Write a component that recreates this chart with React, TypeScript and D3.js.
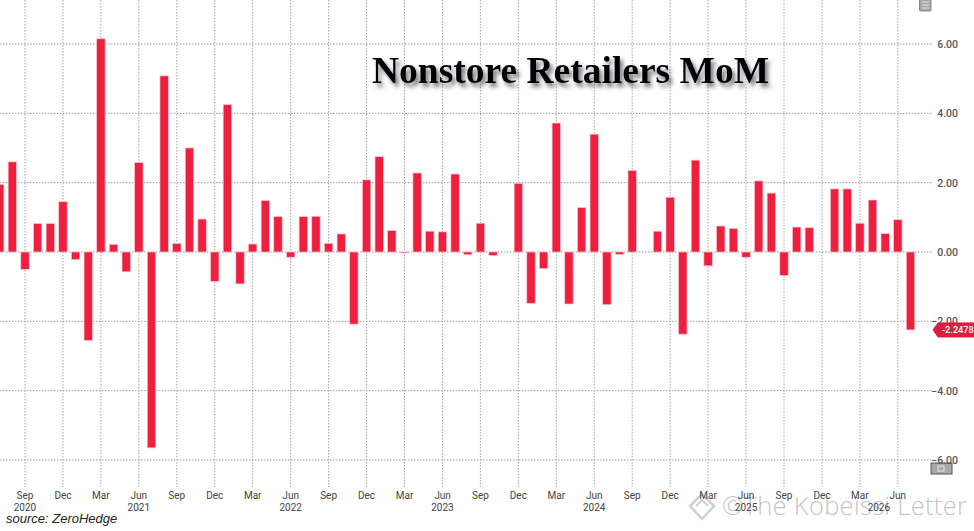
import React, { useEffect, useRef } from 'react';
import * as d3 from 'd3';

const months: string[] = [
  '2020-07','2020-08','2020-09','2020-10','2020-11','2020-12',
  '2021-01','2021-02','2021-03','2021-04','2021-05','2021-06','2021-07','2021-08','2021-09','2021-10','2021-11','2021-12',
  '2022-01','2022-02','2022-03','2022-04','2022-05','2022-06','2022-07','2022-08','2022-09','2022-10','2022-11','2022-12',
  '2023-01','2023-02','2023-03','2023-04','2023-05','2023-06','2023-07','2023-08','2023-09','2023-10','2023-11','2023-12',
  '2024-01','2024-02','2024-03','2024-04','2024-05','2024-06','2024-07','2024-08','2024-09','2024-10','2024-11','2024-12',
  '2025-01','2025-02','2025-03','2025-04','2025-05','2025-06','2025-07','2025-08','2025-09','2025-10','2025-11','2025-12',
  '2026-01','2026-02','2026-03','2026-04','2026-05','2026-06','2026-07',
];
const values: number[] = [
  1.95,2.6,-0.5,0.82,0.82,1.45,
  -0.22,-2.55,6.15,0.22,-0.57,2.58,-5.65,5.08,0.25,3.0,0.95,-0.85,
  4.25,-0.92,0.23,1.48,1.02,-0.15,1.02,1.03,0.25,0.52,-2.08,2.08,
  2.75,0.62,-0.03,2.28,0.6,0.58,2.25,-0.08,0.83,-0.1,0,1.98,
  -1.48,-0.48,3.72,-1.5,1.28,3.4,-1.52,-0.07,2.35,0,0.6,1.58,
  -2.37,2.65,-0.4,0.75,0.68,-0.15,2.05,1.7,-0.68,0.72,0.7,0,
  1.82,1.82,0.83,1.5,0.53,0.93,-2.2478,
];
const yTicks: number[] = [6, 4, 2, 0, -2, -4, -6];
const monthNames: Record<string, string> = { '03': 'Mar', '06': 'Jun', '09': 'Sep', '12': 'Dec' };
// year label sits under the given month index, 2026 is centred on its partial year
const yearLabels: string[] = ['2020', '2021', '2022', '2023', '2024', '2025', '2026'];
const yearIndex: number[] = [2, 11, 23, 35, 47, 59, 69.5];
const lastValue = '-2.2478';

const App = () => {
  const chartRef = useRef<SVGSVGElement | null>(null);

  useEffect(() => {
    const svg = d3.select(chartRef.current);
    svg.selectAll('*').remove();

    const xScale = d3.scaleLinear().domain([0, months.length - 1]).range([-0.3, 910.5]);
    const yScale = d3.scaleLinear().domain([-6, 6]).range([460, 44]);
    const label = 'Roboto';
    const tickMonths = months.filter((m) => monthNames[m.slice(5)]);

    const defs = svg.append('defs');
    const shadow = defs.append('filter').attr('id', 'titleShadow')
      .attr('x', '-5%').attr('y', '-30%').attr('width', '110%').attr('height', '170%');
    shadow.append('feDropShadow').attr('dx', 3).attr('dy', 4).attr('stdDeviation', 2.2)
      .attr('flood-color', '#3c3c4c').attr('flood-opacity', 0.7);

    // grid
    svg.append('g').selectAll('line').data(yTicks).enter().append('line')
      .attr('x1', 0).attr('x2', 932)
      .attr('y1', (d) => yScale(d)).attr('y2', (d) => yScale(d))
      .attr('stroke', '#9a9a9a').attr('stroke-width', 1).attr('stroke-dasharray', '1.5 1.5');
    svg.append('g').selectAll('line').data(tickMonths).enter().append('line')
      .attr('x1', (d) => xScale(months.indexOf(d))).attr('x2', (d) => xScale(months.indexOf(d)))
      .attr('y1', 0).attr('y2', 487)
      .attr('stroke', '#a6a6a6').attr('stroke-width', 1).attr('stroke-dasharray', '1.5 1.5');

    // bars
    svg.append('g').selectAll('rect').data(values).enter().append('rect')
      .attr('x', (d, i) => xScale(i) - 4.2)
      .attr('y', (d) => yScale(Math.max(d, 0)))
      .attr('width', 8.4)
      .attr('height', (d) => Math.abs(yScale(d) - yScale(0)))
      .attr('fill', '#ee1f3f')
      .attr('stroke', '#f9c3cc').attr('stroke-width', 0.7);

    // watermark goes under the axis labels
    const logo = svg.append('g').attr('fill', 'none').attr('stroke', '#cfcfcf').attr('stroke-width', 2.5);
    logo.append('path').attr('d', 'M702,494 L714,506 L702,519 L690,506 Z');
    logo.append('path').attr('d', 'M696,506 L702,500 L708,506').attr('stroke-width', 2);
    svg.append('text').attr('x', 722).attr('y', 515)
      .attr('font-family', 'Open Sans').attr('font-weight', 300).attr('font-size', 25.5)
      .attr('letter-spacing', 0.3)
      .attr('fill', '#bdbdbd').attr('fill-opacity', 0.9).text('©The Kobeissi Letter');

    // x labels
    svg.append('g').selectAll('text').data(tickMonths).enter().append('text')
      .attr('x', (d) => xScale(months.indexOf(d))).attr('y', 499)
      .attr('text-anchor', 'middle').attr('font-family', label).attr('font-size', 10)
      .attr('fill', '#444').text((d) => monthNames[d.slice(5)]);
    svg.append('g').selectAll('text').data(yearLabels).enter().append('text')
      .attr('x', (d, i) => xScale(yearIndex[i])).attr('y', 511)
      .attr('text-anchor', 'middle').attr('font-family', label).attr('font-size', 10)
      .attr('fill', '#444').text((d) => d);

    // corner icons
    const topIcon = svg.append('g');
    topIcon.append('rect').attr('x', 919.5).attr('y', -1).attr('width', 11.5).attr('height', 12)
      .attr('rx', 1).attr('fill', '#a8a8a8').attr('stroke', '#8a8a8a');
    topIcon.selectAll('line').data([2, 5, 8]).enter().append('line')
      .attr('x1', 922).attr('x2', 929).attr('y1', (d) => d).attr('y2', (d) => d)
      .attr('stroke', '#e4e4e4');
    svg.append('rect').attr('x', 931).attr('y', 463).attr('width', 21).attr('height', 11)
      .attr('fill', '#a8a8a8').attr('stroke', '#555');
    svg.append('rect').attr('x', 938).attr('y', 466).attr('width', 6).attr('height', 5)
      .attr('fill', 'none').attr('stroke', '#e4e4e4');

    // y labels
    svg.append('g').selectAll('text').data(yTicks).enter().append('text')
      .attr('x', 958).attr('y', (d) => yScale(d) + 4)
      .attr('text-anchor', 'end').attr('font-family', label).attr('font-size', 10.5)
      .attr('font-weight', 500).attr('fill', '#555').text((d) => d3.format('.2f')(d));

    // last value tag
    const tagY = yScale(values[values.length - 1]);
    svg.append('path')
      .attr('d', `M933,${tagY} L938,${tagY - 7} H974 V${tagY + 7} H938 Z`)
      .attr('fill', '#d81f3d').attr('stroke', '#d81f3d').attr('stroke-linejoin', 'round');
    svg.append('text').attr('x', 942).attr('y', tagY + 3.5)
      .attr('font-family', label).attr('font-size', 9.2).attr('font-weight', 500)
      .attr('fill', '#fff').text(lastValue);

    // title
    svg.append('text').attr('x', 372).attr('y', 83)
      .attr('font-family', 'Liberation Serif').attr('font-weight', 'bold')
      .attr('font-size', 37.5).attr('fill', '#050505')
      .attr('filter', 'url(#titleShadow)').text('Nonstore Retailers MoM');

    svg.append('text').attr('x', 6).attr('y', 523)
      .attr('font-family', 'Liberation Sans').attr('font-style', 'italic').attr('font-size', 13)
      .attr('fill', '#222').text('source: ZeroHedge');
  }, []);

  return (
    <svg ref={chartRef} width={974} height={531}
      style={{ position: 'absolute', left: 0, top: 0, background: '#fff' }} />
  );
};

export default App;
